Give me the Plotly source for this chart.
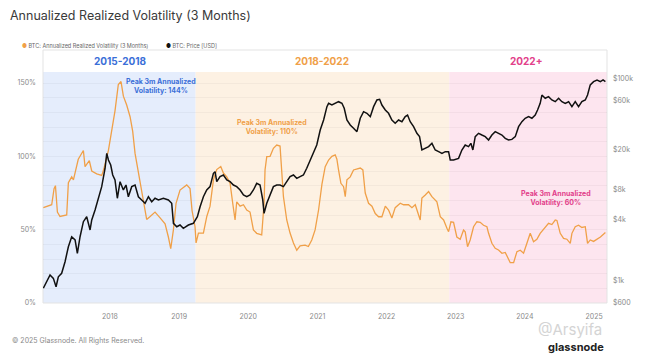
import datetime as dt
import plotly.graph_objects as go

# ---------------- data ----------------
# time expressed as decimal year
vol_t = [2017.035, 2017.156, 2017.19, 2017.21, 2017.238, 2017.276, 2017.373, 2017.397, 2017.445, 2017.47,
         2017.54, 2017.614, 2017.638, 2017.70, 2017.735, 2017.807, 2017.88, 2017.913, 2017.976, 2018.024,
         2018.072, 2018.12, 2018.159, 2018.193, 2018.241, 2018.29, 2018.328, 2018.362, 2018.41, 2018.473,
         2018.53, 2018.58, 2018.651, 2018.724, 2018.796, 2018.844, 2018.878, 2018.917, 2018.955, 2019.013,
         2019.11, 2019.158, 2019.187, 2019.23, 2019.245, 2019.279, 2019.351, 2019.4, 2019.447, 2019.496,
         2019.544, 2019.602, 2019.64, 2019.689, 2019.737, 2019.775, 2019.809, 2019.833, 2019.882, 2019.93,
         2019.978, 2020.026, 2020.075, 2020.123, 2020.195, 2020.229, 2020.243, 2020.268, 2020.316, 2020.364,
         2020.412, 2020.46, 2020.485, 2020.509, 2020.557, 2020.605, 2020.654, 2020.702, 2020.75, 2020.822,
         2020.87, 2020.919, 2020.967, 2021.015, 2021.064, 2021.111, 2021.16, 2021.208, 2021.256, 2021.28,
         2021.304, 2021.338, 2021.377, 2021.401, 2021.425, 2021.473, 2021.521, 2021.57, 2021.618, 2021.656,
         2021.69, 2021.738, 2021.787, 2021.835, 2021.883, 2021.931, 2021.98, 2022.028, 2022.076, 2022.124,
         2022.197, 2022.245, 2022.317, 2022.366, 2022.414, 2022.486, 2022.51, 2022.559, 2022.607, 2022.655,
         2022.727, 2022.776, 2022.824, 2022.872, 2022.896, 2022.93, 2022.968, 2023.016, 2023.065, 2023.113,
         2023.137, 2023.171, 2023.209, 2023.258, 2023.306, 2023.354, 2023.402, 2023.451, 2023.475, 2023.523,
         2023.571, 2023.619, 2023.668, 2023.716, 2023.75, 2023.788, 2023.837, 2023.885, 2023.933, 2023.981,
         2024.03, 2024.078, 2024.126, 2024.174, 2024.222, 2024.295, 2024.343, 2024.391, 2024.44, 2024.464,
         2024.512, 2024.56, 2024.608, 2024.657, 2024.681, 2024.729, 2024.777, 2024.825, 2024.874, 2024.907,
         2024.946, 2024.994, 2025.042, 2025.091, 2025.163]
vol_pct = [65, 67, 78, 80, 62, 59, 60, 82, 86, 84,
           98, 104, 93, 97, 90, 88, 87, 92, 104, 118,
           131, 149, 151, 141, 135, 127, 117, 102, 89, 72,
           57, 59, 62, 58, 54, 45, 37, 50, 68, 77,
           80.5, 78, 63, 52, 41, 47.7, 47.7, 59, 66, 84,
           91, 93, 88.6, 86, 81.6, 68, 56.6, 69, 66, 67,
           63.4, 62, 49.8, 47.5, 46.4, 68, 90.7, 99.8, 100, 105.5,
           107.7, 107, 90.7, 72.5, 56.6, 47.7, 40.9, 36, 39, 39.5,
           38.5, 43, 49.8, 63.4, 81, 93, 97.5, 100, 101, 98,
           90.7, 81.6, 79.3, 72.5, 84, 86, 90.7, 91.5, 92, 90.7,
           75, 68, 66, 61, 58.8, 58.8, 66, 63.4, 58, 65,
           68, 67, 67, 65, 67, 56.6, 71.6, 73.6, 76, 72.5,
           69, 58.8, 56.6, 51, 48.6, 55.4, 55, 45, 43.5, 49.8,
           48.5, 38.4, 43, 52, 55.4, 55, 53, 52, 47.5, 40.7,
           37.3, 36.1, 33.9, 34.5, 31.6, 27.5, 27.5, 35, 36, 34,
           40.7, 47.5, 41.8, 43.5, 47.5, 52, 54.3, 53.5, 56.6, 56.3,
           47.5, 44.1, 43.5, 40.7, 47.5, 52, 53, 51.5, 52, 40.7,
           43, 42, 43.5, 45, 48]

price_t = [2017.035, 2017.132, 2017.18, 2017.219, 2017.252, 2017.3, 2017.349, 2017.397, 2017.445, 2017.494,
           2017.527, 2017.566, 2017.614, 2017.662, 2017.711, 2017.735, 2017.783, 2017.831, 2017.879, 2017.928,
           2017.952, 2017.976, 2018.01, 2018.039, 2018.072, 2018.106, 2018.145, 2018.193, 2018.231, 2018.265,
           2018.314, 2018.362, 2018.41, 2018.458, 2018.507, 2018.555, 2018.603, 2018.651, 2018.7, 2018.772,
           2018.844, 2018.892, 2018.917, 2018.965, 2019.013, 2019.061, 2019.134, 2019.206, 2019.254, 2019.264,
           2019.303, 2019.351, 2019.399, 2019.447, 2019.496, 2019.52, 2019.544, 2019.592, 2019.64, 2019.689,
           2019.737, 2019.785, 2019.833, 2019.882, 2019.93, 2019.978, 2020.026, 2020.075, 2020.123, 2020.171,
           2020.21, 2020.229, 2020.268, 2020.316, 2020.364, 2020.412, 2020.46, 2020.509, 2020.557, 2020.605,
           2020.654, 2020.702, 2020.75, 2020.798, 2020.846, 2020.895, 2020.943, 2020.991, 2021.039, 2021.088,
           2021.136, 2021.16, 2021.208, 2021.256, 2021.304, 2021.353, 2021.386, 2021.425, 2021.473, 2021.521,
           2021.57, 2021.618, 2021.666, 2021.714, 2021.763, 2021.811, 2021.859, 2021.898, 2021.931, 2021.98,
           2022.028, 2022.076, 2022.124, 2022.173, 2022.221, 2022.269, 2022.303, 2022.341, 2022.39, 2022.438,
           2022.476, 2022.51, 2022.559, 2022.607, 2022.655, 2022.703, 2022.752, 2022.8, 2022.848, 2022.896,
           2022.92, 2022.968, 2023.041, 2023.089, 2023.137, 2023.185, 2023.219, 2023.248, 2023.282, 2023.33,
           2023.378, 2023.427, 2023.475, 2023.523, 2023.571, 2023.619, 2023.668, 2023.716, 2023.764, 2023.812,
           2023.861, 2023.909, 2023.957, 2024.005, 2024.054, 2024.102, 2024.15, 2024.184, 2024.222, 2024.247,
           2024.295, 2024.343, 2024.391, 2024.44, 2024.488, 2024.536, 2024.584, 2024.633, 2024.681, 2024.729,
           2024.777, 2024.825, 2024.874, 2024.907, 2024.946, 2024.994, 2025.042, 2025.091, 2025.129, 2025.163]
price_usd = [839, 1135, 1052, 869, 1091, 1180, 1538, 2163, 2716, 2523,
             1862, 2716, 3828, 4285, 3170, 3981, 5000, 6531, 8511, 12942,
             18197, 15631, 13932, 11092, 9908, 6531, 9528, 7889, 8831, 6761,
             8511, 8831, 6761, 6281, 5821, 6761, 6039, 6531, 6281, 6531,
             6281, 5821, 3690, 3412, 3548, 3296, 3548, 3690, 4140, 4285,
             5383, 6761, 7889, 8511, 11535, 11967, 9528, 10691, 11092, 9908,
             9528, 8831, 8511, 7889, 7031, 6761, 7031, 7889, 9183, 8831,
             6281, 4634, 5821, 7031, 8511, 8831, 8831, 8511, 9528, 10691,
             11092, 10280, 10691, 11092, 12942, 15631, 18197, 21979, 30974, 38905,
             52723, 56885, 54702, 56885, 59020, 56885, 50816, 38905, 34674, 32211,
             29785, 40458, 46989, 45290, 41976, 52723, 61376, 62373, 54702, 48865,
             45290, 38905, 36058, 38905, 37411, 41976, 43551, 37411, 33420, 28708,
             26607, 19634, 20417, 21184, 22856, 19634, 18880, 18197, 18880, 18880,
             15631, 15631, 16218, 19634, 21979, 21184, 22856, 19634, 26607, 28708,
             27606, 26607, 24660, 27606, 29785, 28708, 27606, 25586, 24660, 25003,
             26607, 33420, 37411, 40458, 41976, 40458, 43551, 48865, 56885, 68707,
             63826, 66222, 61376, 59020, 63826, 59020, 56885, 59020, 52723, 59020,
             52723, 59020, 61376, 68707, 86497, 93325, 96828, 93325, 96828, 93325]

eras = ["2015-2018", "2018-2022", "2022+"]
era_bounds = ["2017-01-12", "2019-03-29", "2022-11-28", "2025-03-10"]
era_fill = ["#e5edfc", "#fdf1e3", "#fde5ef"]
era_color = ["#3b6fd8", "#f0a048", "#e2408a"]
peak_text = ["Peak 3m Annualized<br>Volatility: 144%",
             "Peak 3m Annualized<br>Volatility: 110%",
             "Peak 3m Annualized<br>Volatility: 60%"]

year_ticks = [2018, 2019, 2020, 2021, 2022, 2023, 2024, 2025]
vol_ticks = [0, 10, 20, 30, 40, 50, 60, 70, 80, 90, 100, 110, 120, 130, 140, 150]
price_ticks = [600, 1000, 4000, 8000, 20000, 60000, 100000]
price_labels = ["$600", "$1k", "$4k", "$8k", "$20k", "$60k", "$100k"]


def to_date(y):
    yr = int(y)
    return dt.datetime(yr, 1, 1) + dt.timedelta(days=(y - yr) * 365.25)


W, H = 649, 358
L, R, T, B = 43, 42, 72, 55
PW, PH = W - L - R, H - T - B


def px(x):  # pixel x -> paper x
    return (x - L) / PW


def py(y):  # pixel y -> paper y
    return (H - B - y) / PH


VOL_C = "#f0a048"
FONT = "Inter"

fig = go.Figure()
fig.add_trace(go.Scatter(x=[to_date(t) for t in vol_t], y=vol_pct, mode="lines",
                         line=dict(color=VOL_C, width=1.3), name="BTC: Annualized Realized Volatility (3 Months)",
                         yaxis="y"))
fig.add_trace(go.Scatter(x=[to_date(t) for t in price_t], y=price_usd, mode="lines",
                         line=dict(color="#111111", width=1.5), name="BTC: Price [USD]",
                         yaxis="y2"))

shapes = []
for i in range(3):
    shapes.append(dict(type="rect", xref="x", yref="paper", x0=era_bounds[i], x1=era_bounds[i + 1],
                       y0=0, y1=1, fillcolor=era_fill[i], line=dict(width=0), layer="below"))
shapes.append(dict(type="rect", xref="paper", yref="paper", x0=0, x1=1, y0=0, y1=py(50),
                   fillcolor="rgba(0,0,0,0)", line=dict(color="#e3e3e3", width=1), layer="below"))

annotations = []
head_x = [120, 322, 526]
peak_pos = [(161, 86), (272, 127), (556, 198)]
for i in range(3):
    annotations.append(dict(text="<b>%s</b>" % eras[i], xref="paper", yref="paper", x=px(head_x[i]), y=py(61),
                            showarrow=False, font=dict(family=FONT, size=10, color=era_color[i]),
                            xanchor="center", yanchor="middle"))
    annotations.append(dict(text="<b>%s</b>" % peak_text[i], xref="paper", yref="paper",
                            x=px(peak_pos[i][0]), y=py(peak_pos[i][1]), showarrow=False,
                            font=dict(family=FONT, size=7, color=era_color[i]),
                            xanchor="center", yanchor="middle", align="center"))

annotations.append(dict(text="<span style='color:%s'>●</span> BTC: Annualized Realized Volatility (3 Months)" % VOL_C,
                        xref="paper", yref="paper", x=px(20), y=py(45), showarrow=False,
                        font=dict(family=FONT, size=5.5, color="#666666"), xanchor="left", yanchor="middle"))
annotations.append(dict(text="<span style='color:#111111'>●</span> BTC: Price [USD]",
                        xref="paper", yref="paper", x=px(164), y=py(45), showarrow=False,
                        font=dict(family=FONT, size=5.5, color="#666666"), xanchor="left", yanchor="middle"))
annotations.append(dict(text="© 2025 Glassnode. All Rights Reserved.", xref="paper", yref="paper",
                        x=px(10), y=py(340), showarrow=False, font=dict(family=FONT, size=7, color="#8a8a8a"),
                        xanchor="left", yanchor="middle"))
annotations.append(dict(text="@Arsyifa", xref="paper", yref="paper",
                        x=px(604), y=py(329), showarrow=False, font=dict(family=FONT, size=15, color="#d4d4d4"),
                        xanchor="right", yanchor="middle"))
annotations.append(dict(text="<b>glassnode</b>", xref="paper", yref="paper",
                        x=px(606), y=py(347), showarrow=False, font=dict(family=FONT, size=11, color="#222222"),
                        xanchor="right", yanchor="middle"))

fig.update_layout(
    width=W, height=H,
    margin=dict(l=L, r=R, t=T, b=B),
    paper_bgcolor="white", plot_bgcolor="white",
    showlegend=False,
    title=dict(text="Annualized Realized Volatility (3 Months)", x=10 / W, y=1 - 16 / H,
               xanchor="left", yanchor="middle", xref="container", yref="container",
               font=dict(family=FONT, size=12.5, color="#3a3a3a")),
    xaxis=dict(type="date", range=[era_bounds[0], era_bounds[-1]],
               tickvals=["%d-01-01" % y for y in year_ticks], ticktext=[str(y) for y in year_ticks],
               showgrid=False, zeroline=False, showline=False, ticks="",
               tickfont=dict(family=FONT, size=7, color="#8a8a8a"), ticklabelstandoff=8),
    yaxis=dict(range=[0, 157.5], tickvals=vol_ticks,
               ticktext=[("%d%%" % v) if v % 50 == 0 else "" for v in vol_ticks],
               showgrid=True, gridcolor="rgba(0,0,0,0.035)", gridwidth=1, zeroline=False, showline=False,
               ticks="", tickfont=dict(family=FONT, size=7, color="#8a8a8a"), ticklabelstandoff=6),
    yaxis2=dict(type="log", range=[2.778, 5.065], overlaying="y", side="right",
                tickvals=price_ticks, ticktext=price_labels, showgrid=False, zeroline=False,
                showline=False, ticks="", tickfont=dict(family=FONT, size=7, color="#8a8a8a"),
                ticklabelstandoff=5),
    shapes=shapes,
    annotations=annotations,
    font=dict(family=FONT),
)

fig.write_html("out.html", config={"displayModeBar": False},
               post_script="document.body.style.margin='0';")
